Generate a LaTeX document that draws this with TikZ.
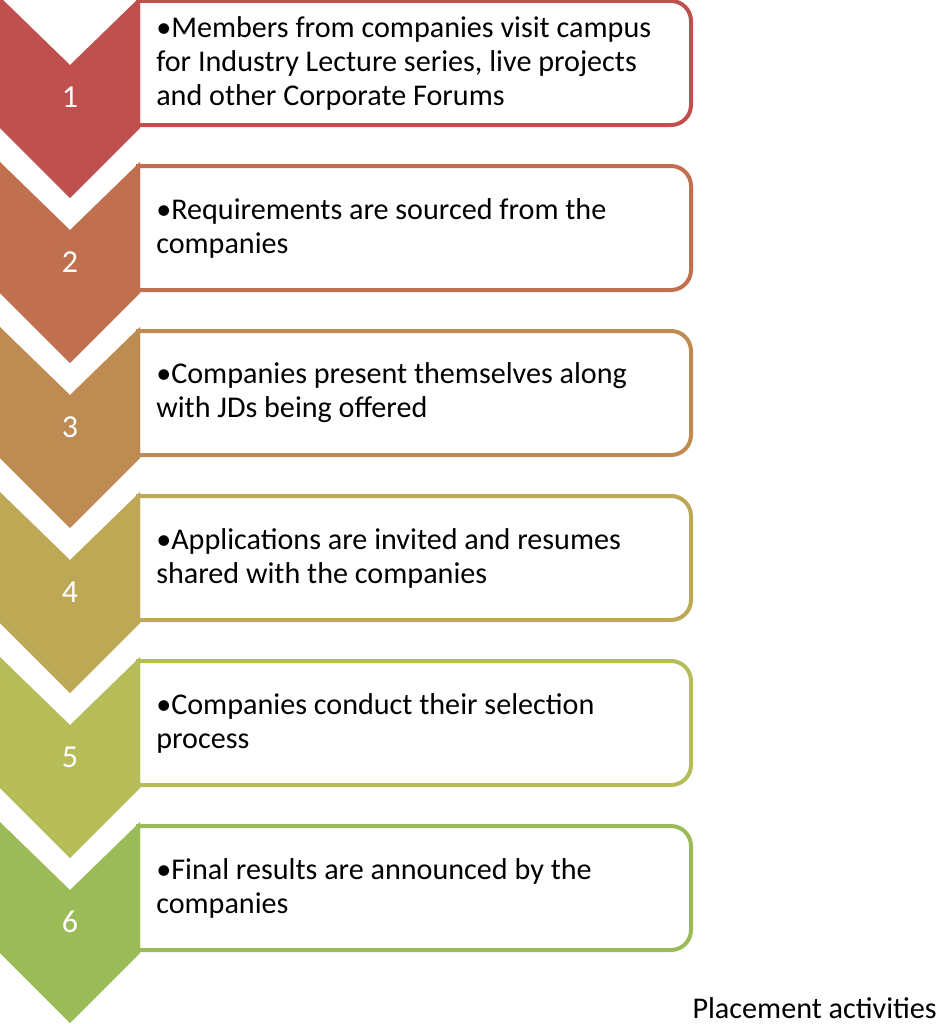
\documentclass[tikz,border=0pt]{standalone}
\usepackage{fontspec}
\setmainfont{Carlito}
\definecolor{col1}{RGB}{192,80,77}
\definecolor{col2}{RGB}{192,111,79}
\definecolor{col3}{RGB}{190,140,82}
\definecolor{col4}{RGB}{189,168,85}
\definecolor{col5}{RGB}{181,188,88}
\definecolor{col6}{RGB}{155,187,89}
\tikzset{>=latex}

\begin{document}
\begin{tikzpicture}[x=0.75pt, y=-0.75pt]
	\tikzstyle{box} = [line width=3pt, fill=white]
	\tikzstyle{num} = [text=white, font=\fontsize{24}{28}\selectfont]
	\tikzstyle{item} = [anchor=west, align=left, inner sep=0pt, font=\fontsize{22.6}{25.5}\selectfont]
	\useasboundingbox (0,0) rectangle (938,1024);

%----------boxes------------------------------
	\draw[box, draw=col1] (138,1) -- (671,1) arc (-90:0:20) -- (691,105) arc (0:90:20) -- (138,125) -- cycle;
	\draw[box, draw=col2] (138,166) -- (671,166) arc (-90:0:20) -- (691,270) arc (0:90:20) -- (138,290) -- cycle;
	\draw[box, draw=col3] (138,331) -- (671,331) arc (-90:0:20) -- (691,435) arc (0:90:20) -- (138,455) -- cycle;
	\draw[box, draw=col4] (138,496) -- (671,496) arc (-90:0:20) -- (691,600) arc (0:90:20) -- (138,620) -- cycle;
	\draw[box, draw=col5] (138,661) -- (671,661) arc (-90:0:20) -- (691,765) arc (0:90:20) -- (138,785) -- cycle;
	\draw[box, draw=col6] (138,826) -- (671,826) arc (-90:0:20) -- (691,930) arc (0:90:20) -- (138,950) -- cycle;

	\node[item] (t1) at (156,63) {•Members from companies visit campus\\for Industry Lecture series, live projects\\and other Corporate Forums};
	\node[item] (t2) at (156,228) {•Requirements are sourced from the\\companies};
	\node[item] (t3) at (156,393) {•Companies present themselves along\\with JDs being offered};
	\node[item] (t4) at (156,558) {•Applications are invited and resumes\\shared with the companies};
	\node[item] (t5) at (156,723) {•Companies conduct their selection\\process};
	\node[item] (t6) at (156,888) {•Final results are announced by the\\companies};

%----------chevrons------------------------------
	\fill[col1] (0,-3) -- (70,65) -- (140,-3) -- (140,128) -- (70,198) -- (0,128) -- cycle;
	\fill[col2] (0,162) -- (70,230) -- (140,162) -- (140,293) -- (70,363) -- (0,293) -- cycle;
	\fill[col3] (0,327) -- (70,395) -- (140,327) -- (140,458) -- (70,528) -- (0,458) -- cycle;
	\fill[col4] (0,492) -- (70,560) -- (140,492) -- (140,623) -- (70,693) -- (0,623) -- cycle;
	\fill[col5] (0,657) -- (70,725) -- (140,657) -- (140,788) -- (70,858) -- (0,788) -- cycle;
	\fill[col6] (0,822) -- (70,890) -- (140,822) -- (140,953) -- (70,1023) -- (0,953) -- cycle;

	\node[num] (n1) at (70,97) {1};
	\node[num] (n2) at (70,262) {2};
	\node[num] (n3) at (70,427) {3};
	\node[num] (n4) at (70,592) {4};
	\node[num] (n5) at (70,757) {5};
	\node[num] (n6) at (70,922) {6};

%------------------------------------------------------------
	\node[anchor=base east, inner sep=0pt, font=\fontsize{22.6}{25.5}\selectfont] (cap) at (937,1018) {Placement activities};
\end{tikzpicture}
\end{document}
